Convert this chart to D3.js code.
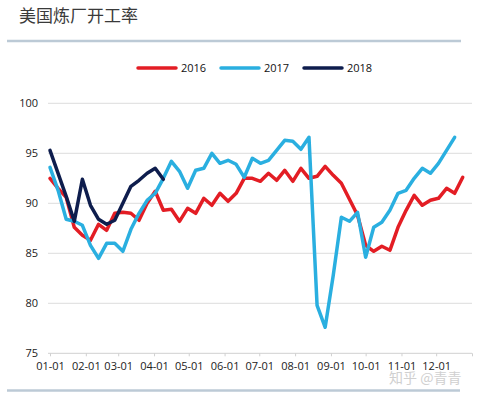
<!DOCTYPE html>
<html lang="zh">
<head>
    <meta charset="UTF-8">
    <title>美国炼厂开工率</title>
    <script src="https://d3js.org/d3.v7.min.js"></script>
    <style>
        body { margin: 0; background: #fff; }
        .tick-label {
            font: 11px "Open Sans", "Noto Sans", sans-serif;
            fill: #222;
        }
        .legend-label {
            font: 11px "Open Sans", "Noto Sans", sans-serif;
            fill: #111;
        }
    </style>
</head>
<body>
    <div id="chart"></div>
    <script>
        // x axis: month labels and the day of year where each month starts
        const monthLabels = ["01-01", "02-01", "03-01", "04-01", "05-01", "06-01", "07-01", "08-01", "09-01", "10-01", "11-01", "12-01"];
        const monthStartDays = [0, 31, 59, 90, 120, 151, 181, 212, 243, 273, 304, 334];
        const yTicks = [75, 80, 85, 90, 95, 100];

        const seriesNames = ["2016", "2017", "2018"];
        // weekly utilisation rate (%), one value per week from 01-01
        const rate2016 = [92.5, 91.5, 90.6, 87.6, 86.8, 86.3, 87.9, 87.3, 89.0, 89.1,
                          89.0, 88.3, 90.0, 91.2, 89.3, 89.4, 88.2, 89.5, 89.0, 90.5,
                          89.8, 91.0, 90.2, 91.0, 92.5, 92.5, 92.2, 93.0, 92.3, 93.3,
                          92.2, 93.5, 92.5, 92.7, 93.7, 92.8, 92.0, 90.4, 88.8, 85.8,
                          85.2, 85.7, 85.3, 87.6, 89.3, 90.8, 89.8, 90.3, 90.5, 91.5,
                          91.0, 92.6];
        const rate2017 = [93.6, 91.3, 88.4, 88.2, 87.8, 85.8, 84.5, 86.0, 86.0, 85.2,
                          87.4, 89.0, 90.3, 91.0, 92.5, 94.2, 93.2, 91.5, 93.3, 93.5,
                          95.0, 94.0, 94.3, 93.9, 92.6, 94.5, 94.0, 94.3, 95.3, 96.3,
                          96.2, 95.4, 96.6, 79.8, 77.6, 82.8, 88.6, 88.2, 89.1, 84.6,
                          87.6, 88.1, 89.3, 91.0, 91.3, 92.5, 93.5, 93.0, 94.0, 95.3,
                          96.6];
        const rate2018 = [95.3, 93.0, 90.7, 88.2, 92.4, 89.8, 88.4, 87.9, 88.3, 90.0,
                          91.7, 92.3, 93.0, 93.5, 92.4];

        const colors = ["#e31d24", "#2aafe0", "#0e1d4d"];

        const W = 478, H = 399;
        const svg = d3.select("#chart").append("svg")
            .attr("width", W)
            .attr("height", H);

        // title and rules
        svg.append("text")
            .attr("x", 19)
            .attr("y", 22)
            .style("font", "17px 'Noto Sans CJK SC', sans-serif")
            .style("fill", "#3a3a3a")
            .text("美国炼厂开工率");

        svg.append("line")
            .attr("x1", 7).attr("x2", 461)
            .attr("y1", 41).attr("y2", 41)
            .attr("stroke", "#bccad6")
            .attr("stroke-width", 2.5);

        svg.append("line")
            .attr("x1", 7).attr("x2", 460)
            .attr("y1", 390.5).attr("y2", 390.5)
            .attr("stroke", "#bccad6")
            .attr("stroke-width", 2.5);

        const x = d3.scaleLinear().domain([0, 365]).range([50, 472]);
        const y = d3.scaleLinear().domain([75, 100]).range([353.3, 103.3]);

        // gridlines
        svg.append("g")
            .selectAll("line")
            .data(yTicks.slice(1))
            .enter().append("line")
              .attr("x1", 48).attr("x2", 472)
              .attr("y1", d => y(d)).attr("y2", d => y(d))
              .attr("stroke", "#dcdcdc")
              .attr("stroke-width", 1);

        // y axis labels
        const yAxis = svg.append("g")
            .attr("transform", "translate(48,0)")
            .call(d3.axisLeft(y).tickValues(yTicks).tickSize(0).tickPadding(10));
        yAxis.select(".domain").remove();
        yAxis.selectAll("text").attr("class", "tick-label").attr("fill", null);

        // x axis
        const xAxis = svg.append("g")
            .attr("transform", `translate(0,${y(75)})`)
            .call(d3.axisBottom(x)
                .tickValues(monthStartDays.concat([365]))
                .tickFormat((d, i) => monthLabels[i] || "")
                .tickSize(3)
                .tickPadding(6)
                .tickSizeOuter(0));
        xAxis.select(".domain").attr("stroke", "#d0d0d0").attr("d", `M48,0H472`);
        xAxis.selectAll(".tick line").attr("stroke", "#d0d0d0");
        xAxis.selectAll("text").attr("class", "tick-label").attr("fill", null);

        // lines
        const line = d3.line()
            .x((d, i) => x(i * 7))
            .y(d => y(d));

        [rate2016, rate2017, rate2018].forEach((values, i) => {
            svg.append("path")
                .datum(values)
                .attr("fill", "none")
                .attr("stroke", colors[i])
                .attr("stroke-width", 3.5)
                .attr("stroke-linejoin", "round")
                .attr("stroke-linecap", "round")
                .attr("d", line);
        });

        // legend
        const legendX = [137, 220, 303];
        const legend = svg.selectAll(".legend")
            .data(seriesNames)
          .enter().append("g")
            .attr("class", "legend")
            .attr("transform", (d, i) => `translate(${legendX[i]},68)`);

        legend.append("line")
            .attr("x1", 1).attr("x2", 39)
            .attr("y1", 0).attr("y2", 0)
            .attr("stroke", (d, i) => colors[i])
            .attr("stroke-width", 3.5)
            .attr("stroke-linecap", "round");

        legend.append("text")
            .attr("class", "legend-label")
            .attr("x", 44)
            .attr("y", 0)
            .attr("dy", ".35em")
            .text(d => d);

        // watermark
        svg.append("text")
            .attr("x", 389)
            .attr("y", 383)
            .style("font", "14px 'Noto Sans CJK SC', sans-serif")
            .style("fill", "#d0d0d0")
            .text("知乎 @青青");
    </script>
</body>
</html>
